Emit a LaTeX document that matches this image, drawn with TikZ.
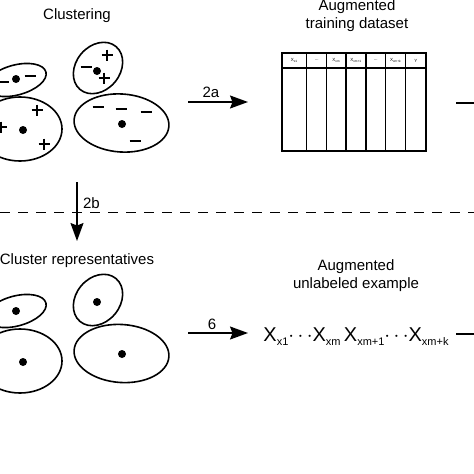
\documentclass[tikz,border=0pt]{standalone}
\usepackage{fontspec}
\setmainfont{Liberation Sans}
\usetikzlibrary{arrows.meta}

\tikzset{
  arr/.style={-{Stealth[length=18pt,width=13pt,inset=2.5pt]}, line width=1.6pt},
  lbl/.style={font=\fontsize{15}{18}\selectfont, align=center},
  hdr/.style={font=\fontsize{4.5}{5}\selectfont, inner sep=0pt},
  blob/.style={line width=1.6pt},
}
\newcommand{\plussign}[1]{\draw[line width=1.8pt] (#1) +(-5.5,0) -- +(5.5,0) (#1) +(0,-5.5) -- +(0,5.5);}
\newcommand{\minussign}[1]{\draw[line width=1.8pt] (#1) +(-5.5,0) -- +(5.5,0);}
\newcommand{\centre}[1]{\fill (#1) circle (4);}
\newcommand{\Xs}[1]{X\textsubscript{#1}}
\newcommand{\Xb}[1]{X\raisebox{-4pt}{\fontsize{11}{12}\selectfont #1}}

\begin{document}
\begin{tikzpicture}[x=1pt,y=-1pt]
\useasboundingbox (0,0) rectangle (474,474);
\clip (0,0) rectangle (474,474);

% clustering
\node[lbl] (clus) at (77,16) {Clustering};
\draw[blob, rotate around={15:(16,80)}] (16,80) ellipse (31 and 15);
\draw[blob, rotate around={50:(98,68)}] (98,68) ellipse (28 and 22);
\draw[blob] (20,129) ellipse (42 and 32);
\draw[blob, rotate around={-4:(121.5,123)}] (121.5,123) ellipse (47.5 and 29);
\centre{16,79} \centre{97,71} \centre{23,130} \centre{122,124}
\minussign{30,76} \minussign{3,82}
\plussign{107,55} \minussign{86,67} \plussign{104,78}
\plussign{37,110} \plussign{1,127} \plussign{44,144}
\minussign{98,107} \minussign{121,109} \minussign{146,112} \minussign{135,141}

% training dataset
\node[lbl] (train) at (357,16) {Augmented\\training dataset};
\draw[line width=1.5pt] (282,53) rectangle (426,151);
\draw[line width=1.5pt] (282,68) -- (426,68);
\foreach \x in {306.7,326.7,346,366,385.7,405.7}
  \draw[line width=1.5pt] (\x,53) -- (\x,151);
\node[hdr] (h1) at (294.3,60.5) {\Xs{x1}};
\node[hdr] (h2) at (316.7,60.5) {...};
\node[hdr] (h3) at (336.3,60.5) {\Xs{xm}};
\node[hdr] (h4) at (356,60.5) {\Xs{xm+1}};
\node[hdr] (h5) at (375.8,60.5) {...};
\node[hdr] (h6) at (395.7,60.5) {\Xs{xm+k}};
\node[hdr] (h7) at (415.8,60.5) {Y};

% arrow 2a
\coordinate (s2a) at (188,102);
\coordinate (e2a) at (248,102);
\draw[arr] (s2a) -- (e2a);
\node[lbl] (l2a) at (211,92) {2a};
\coordinate (s3) at (456,103);
\coordinate (e3) at (474,103);
\draw[line width=1.6pt] (s3) -- (e3);

% dashed line and arrow 2b
\coordinate (dl) at (0,212.5);
\coordinate (dr) at (474,212.5);
\draw[line width=1.5pt, dash pattern=on 10pt off 8pt] (dl) -- (dr);
\coordinate (s2b) at (77,182);
\coordinate (e2b) at (77,241);
\draw[arr] (s2b) -- (e2b);
\node[lbl] (l2b) at (91.5,203) {2b};

% cluster representatives
\node[lbl] (reps) at (77,261) {Cluster representatives};
\draw[blob, rotate around={15:(16,311)}] (16,311) ellipse (31 and 15);
\draw[blob, rotate around={50:(98,300)}] (98,300) ellipse (28 and 22);
\draw[blob] (20,361) ellipse (42 and 32);
\draw[blob, rotate around={-4:(121.5,353.5)}] (121.5,353.5) ellipse (47.5 and 29);
\centre{16,311} \centre{97,302} \centre{23,362} \centre{122,354}

% arrow 6
\coordinate (s6) at (188,333);
\coordinate (e6) at (248,333);
\draw[arr] (s6) -- (e6);
\node[lbl] (l6) at (212,324) {6};

% unlabeled example
\node[lbl] (unl) at (356,275.5) {Augmented\\unlabeled example};
\node[font=\fontsize{20}{22}\selectfont, inner sep=0pt] (row) at (356,337)
  {\Xb{x1}$\cdots$\Xb{xm}\,\Xb{xm+1}$\cdots$\Xb{xm+k}};
\coordinate (s7) at (456,334);
\coordinate (e7) at (474,334);
\draw[line width=1.6pt] (s7) -- (e7);

\end{tikzpicture}
\end{document}
